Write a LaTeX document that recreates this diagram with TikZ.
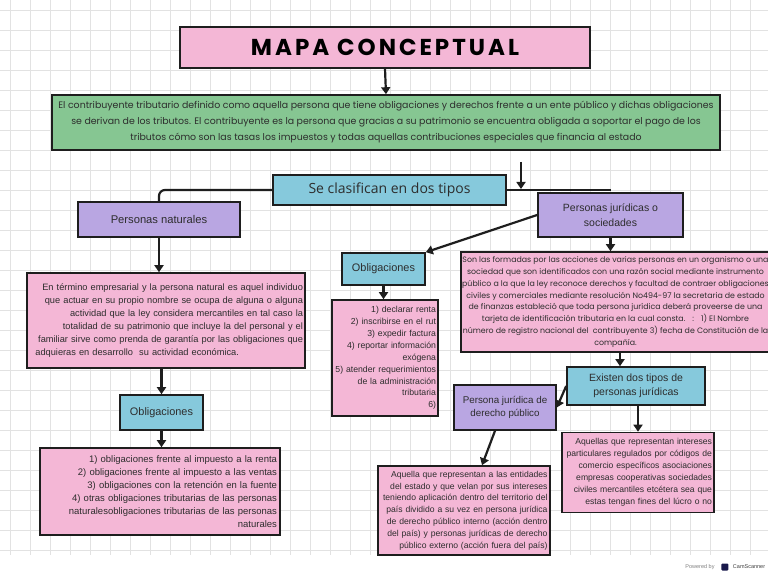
\documentclass[tikz,border=0pt]{standalone}
\usepackage{fontspec}
\setmainfont{Liberation Sans}
\newfontfamily\popfont{Poppins}
\newfontfamily\titlefont[LetterSpace=13]{Poppins}
\newfontfamily\opfont{Open Sans}
\usetikzlibrary{arrows.meta,positioning,calc}
\definecolor{mapink}{RGB}{244,183,214}
\definecolor{mapgreen}{RGB}{134,198,146}
\definecolor{mapcyan}{RGB}{134,201,220}
\definecolor{mappurple}{RGB}{185,166,226}
\definecolor{mapline}{RGB}{30,30,30}
\definecolor{maptext}{RGB}{45,45,45}
\definecolor{mapgrid}{RGB}{226,226,226}

\tikzset{
  box/.style={draw=mapline, line width=1.6pt, inner sep=3pt, text=maptext},
  pinkbox/.style={box, fill=mapink, align=right, inner xsep=2pt},
  labelbox/.style={box, align=center},
  cyanbox/.style={labelbox, fill=mapcyan},
  purplebox/.style={labelbox, fill=mappurple},
  link/.style={draw=mapline, line width=2.2pt},
  arr/.style={link, -{Triangle[length=7pt,width=9pt]}},
  gridline/.style={draw=mapgrid, line width=0.6pt},
}

\begin{document}
\begin{tikzpicture}[x=1pt, y=-1pt]
  \useasboundingbox (0,0) rectangle (768,577);
  \clip (0,0) rectangle (768,577);
  \fill[white] (0,0) rectangle (768,577);

  % background grid
  \foreach \gx in {10,30,...,770} \draw[gridline] (\gx,0) -- (\gx,555);
  \foreach \gy in {10,30,...,550} \draw[gridline] (0,\gy) -- (768,\gy);

  % title and definition
  \node[box, fill=mapink, minimum width=410pt, minimum height=41pt, font=\titlefont\bfseries\fontsize{23}{25}\selectfont, text=black] (t) at (385,47.5) {MAPA CONCEPTUAL};
  \node[labelbox, fill=mapgreen, minimum width=668pt, minimum height=55pt, font=\popfont\fontsize{9.4}{16}\selectfont] (g) at (386,122.5) {El contribuyente tributario definido como aquella persona que tiene obligaciones y derechos frente a un ente público y dichas obligaciones\\se derivan de los tributos. El contribuyente es la persona que gracias a su patrimonio se encuentra obligada a soportar el pago de los\\tributos cómo son las tasas los impuestos y todas aquellas contribuciones especiales que financia al estado};
  \node[cyanbox, minimum width=233pt, minimum height=30pt, font=\opfont\fontsize{14}{16}\selectfont] (c) at (389.5,190) {Se clasifican en dos tipos};
  \coordinate (a1) at (521,162);
  \coordinate (a2) at (521,189);

  % personas naturales
  \node[purplebox, minimum width=162pt, minimum height=35pt, font=\fontsize{11.2}{13}\selectfont] (pn) at (159,219.5) {Personas naturales};
  \node[pinkbox, minimum width=278pt, minimum height=95pt, text width=274pt, font=\fontsize{9.25}{13}\selectfont] (pnt) at (166,320.5) {En término empresarial y la persona natural es aquel individuo\\que actuar en su propio nombre se ocupa de alguna o alguna\\actividad que la ley considera mercantiles en tal caso la\\totalidad de su patrimonio que incluye la del personal y el\\familiar sirve como prenda de garantía por las obligaciones que\\adquieras en desarrollo \ su actividad económica.\hspace*{64pt}};
  \node[cyanbox, minimum width=83pt, minimum height=35pt, font=\fontsize{10.9}{12}\selectfont] (o1) at (161.5,412.5) {Obligaciones};
  \node[pinkbox, minimum width=240pt, minimum height=87pt, text width=234pt, font=\fontsize{9.5}{13}\selectfont] (o1t) at (160,491.5) {1) obligaciones frente al impuesto a la renta\\2) obligaciones frente al impuesto a las ventas\\3) obligaciones con la retención en la fuente\\4) otras obligaciones tributarias de las personas\\naturalesobligaciones tributarias de las personas\\naturales};

  % personas juridicas
  \node[purplebox, minimum width=145pt, minimum height=44pt, font=\fontsize{10.5}{15.5}\selectfont] (pj) at (610.5,215) {Personas jurídicas o\\sociedades};
  \node[cyanbox, minimum width=83pt, minimum height=32pt, font=\fontsize{10.9}{12}\selectfont] (o2) at (383.5,269) {Obligaciones};
  \node[pinkbox, minimum width=106pt, minimum height=116pt, text width=102pt, font=\fontsize{8.7}{11.9}\selectfont] (o2t) at (385,358) {1) declarar renta\\2) inscribirse en el rut\\3) expedir factura\\4) reportar información\\exógena\hspace*{4pt}\\5) atender requerimientos\\de la administración\\tributaria\hspace*{4pt}\\6)};
  \node[box, fill=mapink, align=center, minimum width=309pt, minimum height=100pt, inner xsep=-7pt, font=\popfont\fontsize{7.85}{11.9}\selectfont] (pjt) at (615.5,302) {Son las formadas por las acciones de varias personas en un organismo o una\\sociedad que son identificados con una razón social mediante instrumento\\público a la que la ley reconoce derechos y facultad de contraer obligaciones\\civiles y comerciales mediante resolución No494-97 la secretaria de estado\\de finanzas estableció que toda persona jurídica deberá proveerse de una\\tarjeta de identificación tributaria en la cual consta. \ \ : \ \ 1) El Nombre\\número de registro nacional del \ contribuyente 3) fecha de Constitución de la\\compañía.};
  \node[cyanbox, minimum width=138pt, minimum height=38pt, font=\fontsize{10.5}{14}\selectfont] (ex) at (636,386) {Existen dos tipos de\\personas jurídicas};
  \node[purplebox, minimum width=102pt, minimum height=45pt, font=\fontsize{9.8}{13.5}\selectfont] (pd) at (505,407.5) {Persona jurídica de\\derecho público};
  \node[pinkbox, minimum width=172pt, minimum height=89pt, text width=167pt, font=\fontsize{8.6}{11.8}\selectfont] (pdt) at (464,510.5) {Aquella que representan a las entidades\\del estado y que velan por sus intereses\\teniendo aplicación dentro del territorio del\\país dividido a su vez en persona jurídica\\de derecho público interno (acción dentro\\del país) y personas jurídicas de derecho\\público externo (acción fuera del país)};
  \node[pinkbox, minimum width=152pt, minimum height=80pt, text width=148pt, font=\fontsize{8.6}{11.9}\selectfont] (ext) at (638,472.5) {Aquellas que representan intereses\\particulares regulados por códigos de\\comercio específicos asociaciones\\empresas cooperativas sociedades\\civiles mercantiles etcétera sea que\\estas tengan fines del lúcro o no};

  % connectors
  \draw[arr] (t.south) -- (g.north);
  \draw[arr] (a1) -- (a2);
  \draw[link] (c.east) -- (c.east -| pj.north);
  \draw[link, rounded corners=6pt] (c.west) -| (pn.north);
  \draw[arr] (pn.south) -- (pn.south |- pnt.north);
  \draw[arr] (o1.north |- pnt.south) -- (o1.north);
  \draw[arr] (o1.south) -- (o1.south |- o1t.north);
  \draw[arr] (pj.west) -- (o2.north east);
  \draw[arr] (o2.south) -- (o2.south |- o2t.north);
  \draw[arr] (pj.south) -- (pj.south |- pjt.north);
  \draw[arr] ([xshift=-16pt]ex.north |- pjt.south) -- ([xshift=-16pt]ex.north);
  \draw[arr] (ex.west) -- (pd.east);
  \draw[arr] ([xshift=-10pt]pd.south) -- ([xshift=18pt]pdt.north);
  \draw[arr] (ext.north |- ex.south) -- (ext.north);

  % footer
  \node[font=\fontsize{5.5}{6}\selectfont, text=gray] (pw) at (700,567) {Powered by};
  \node[fill=mapline!80!blue, rounded corners=1pt, minimum size=7pt, inner sep=0pt, right=3pt of pw] (cs) {};
  \node[font=\fontsize{5.5}{6}\selectfont, text=darkgray, right=1pt of cs] (csn) {CamScanner};
\end{tikzpicture}
\end{document}
